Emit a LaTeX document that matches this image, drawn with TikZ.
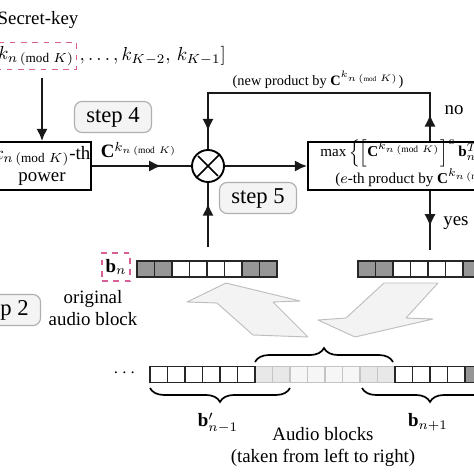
\documentclass[tikz,border=0pt]{standalone}
\usepackage{amsmath}
\usepackage{fontspec}
\setmainfont{Liberation Serif}
\usetikzlibrary{
  arrows.meta,
  decorations.markings,
  decorations.pathreplacing,
  positioning,
}
\newcommand{\pxu}{0.53pt}
\newcommand{\kmod}{k_{n\,(\mathrm{mod}\;K)}}
\newcommand{\Ck}{\mathbf{C}^{\kmod}}

\definecolor{keypink}{RGB}{214,96,150}
\definecolor{cellgray}{RGB}{150,150,150}
\definecolor{fadedraw}{RGB}{196,196,196}
\definecolor{fadefill}{RGB}{232,232,232}
\definecolor{fadewhite}{RGB}{246,246,246}
\definecolor{stepfill}{RGB}{244,244,244}
\definecolor{stepdraw}{RGB}{175,175,175}
\definecolor{hollowfill}{RGB}{243,243,243}
\definecolor{hollowdraw}{RGB}{190,190,190}

\tikzset{bigtip/.tip={Latex[length=6.5pt,width=6pt]}}

\begin{document}
\begin{tikzpicture}[
  x=0.53pt,
  y=-0.53pt,
  line/.style={
    draw=black!90,
    line width=1.1pt,
  },
  arrow/.style={
    line,
    -bigtip,
  },
  mid arrow/.style={
    line,
    postaction={decorate},
    decoration={markings, mark=at position #1 with {\arrow{bigtip}}},
  },
  block/.style={
    draw,
    line width=1pt,
    inner sep=0pt,
    align=center,
    minimum height=48*\pxu,
  },
  stepbox/.style={
    draw=stepdraw,
    fill=stepfill,
    rounded corners=4pt,
    line width=0.6pt,
    font={\large},
    minimum width=77*\pxu,
    minimum height=31*\pxu,
    inner sep=0pt,
  },
  keybox/.style={
    draw=keypink,
    dashed,
    line width=0.7pt,
    inner sep=1.5pt,
  },
  cell/.style={
    draw=black!85,
    line width=0.8pt,
    minimum width=17.5*\pxu,
    minimum height=16*\pxu,
    inner sep=0pt,
    outer sep=0pt,
  },
  fade cell/.style={
    cell,
    draw=fadedraw,
  },
  hollow/.style={
    draw=hollowdraw,
    fill=hollowfill,
    line width=0.5pt,
    line join=round,
  },
  brace/.style={
    decorate,
    decoration={brace, amplitude=7.4pt},
    line width=0.9pt,
  },
  small text/.style={
    inner sep=0pt,
    font={\fontsize{8}{9.5}\selectfont},
  },
]
  \useasboundingbox (0,0) rectangle (474,474);
  \clip (0,0) rectangle (474,474);

  %%%%%%%%%%%%%%%%%%%% Secret key %%%%%%%%%%%%%%%%%%%%

  \node (secret) at (38,20) {Secret-key};
  \node[keybox, minimum width=73*\pxu, minimum height=27*\pxu] (kn) at (36,56) {$\kmod$};
  \node[anchor=west, inner sep=1pt] (krest) at (kn.east) {$,\ldots,k_{K-2},\,k_{K-1}]$};

  \node[block, minimum width=98*\pxu] (power) at (42,166) {$\kmod$-th\\power};

  \coordinate (keyfoot) at (42,78);
  \draw[arrow] (keyfoot) -- (keyfoot |- power.north);

  \node[stepbox] (step4) at (113,117) {step 4};

  %%%%%%%%%%%%%%%%%%%% Product loop %%%%%%%%%%%%%%%%%%%%

  \node[circle, draw, line width=1pt, minimum size=32*\pxu, inner sep=0pt] (mul) at (208,166) {};
  \draw[line width=0.8pt, shorten <=1.5pt, shorten >=1.5pt]
    (mul.45) -- (mul.225) (mul.135) -- (mul.315);

  \draw[mid arrow=0.7] (power.east) -- (mul.west);
  \node (ck) at (139,150) {$\Ck$};

  \node[block, minimum width=244*\pxu] (cond) at (430,166) {};
  \node[small text, anchor=west] (condmax) at (320,153)
    {$\max\left\{\left[\Ck\right]^e\mathbf{b}_n^T\right\}\leq$};
  \node[small text, anchor=west] (condprod) at (335,178)
    {($e$-th product by $\Ck$)};

  \draw[arrow] (mul.east) -- (cond.west);

  \coordinate (loopR) at (430,93);
  \coordinate (loopL) at (208,93);
  \draw[line, line join=miter, postaction={decorate},
    decoration={markings,
      mark=at position 0.082 with {\arrow{bigtip}},
      mark=at position 0.945 with {\arrow{bigtip}}}]
    (cond.north) -- (loopR) -- (loopL) -- (mul.north);
  \node[small text, font={\fontsize{7.6}{9}\selectfont}] (newprod) at (318,80) {(new product by $\Ck$)};
  \node (no) at (454,110) {no};

  \coordinate (bnfoot) at (208,247);
  \draw[mid arrow=0.68] (bnfoot) -- (mul.south);
  \node[stepbox] (step5) at (258,198) {step 5};

  \coordinate (outhead) at (430,250);
  \draw[mid arrow=0.6] (cond.south) -- (outhead);
  \node (yes) at (456,223) {yes};

  %%%%%%%%%%%%%%%%%%%% Blocks %%%%%%%%%%%%%%%%%%%%

  \node[keybox, minimum size=28*\pxu, inner sep=0pt] (bnlabel) at (116,267) {$\mathbf{b}_n$};
  \node[align=center] (orig) at (93,308) {original\\audio block};
  \node[stepbox] (step2) at (2,310) {step 2};

  \foreach \i/\f in {1/cellgray,2/cellgray,3/white,4/white,5/white,6/white,7/cellgray,8/cellgray} {
    \node[cell, fill=\f] (bn-\i) at ({137+(\i-0.5)*17.5},269) {};
    \node[cell, fill=\f] (out-\i) at ({358+(\i-0.5)*17.5},269) {};
  }

  \draw[hollow] (187,302) -- (226,283) -- (300,301) -- (273,302)
    -- (308,337) -- (253,335) -- (217,303) -- cycle;
  \draw[hollow] (384,283) -- (438,283) -- (406,318) -- (433,319)
    -- (355,337) -- (318,320) -- (346,318) -- cycle;

  %%%%%%%%%%%%%%%%%%%% Audio stream %%%%%%%%%%%%%%%%%%%%

  \node (dots) at (126,373) {$\cdots$};

  \foreach \i/\f in {1/fadefill,2/fadefill,3/fadewhite,4/fadewhite,5/fadewhite,6/fadewhite,7/fadefill,8/fadefill} {
    \node[fade cell, fill=\f] (fade-\i) at ({255+(\i-0.5)*17.5},374.5) {};
  }
  \foreach \i in {1,...,6} {
    \node[cell, fill=white] (old-\i) at ({150+(\i-0.5)*17.5},374.5) {};
  }
  \foreach \i/\f in {1/white,2/white,3/white,4/white,5/cellgray} {
    \node[cell, fill=\f] (next-\i) at ({395+(\i-0.5)*17.5},374.5) {};
  }

  \draw[brace] (255,362) -- (393,362);
  \draw[brace] (290,388) -- (150,388);
  \draw[brace] (498,388) -- (362,388);

  \node (bprev) at (218,423) {$\mathbf{b}'_{n-1}$};
  \node (bnext) at (428,422) {$\mathbf{b}_{n+1}$};
  \node[align=center] (caption) at (323,447) {Audio blocks\\(taken from left to right)};
\end{tikzpicture}
\end{document}
